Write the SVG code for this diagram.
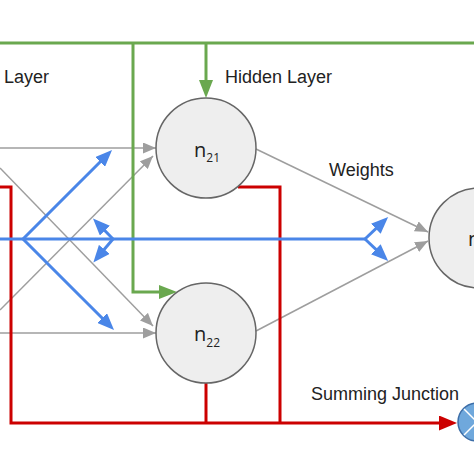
<svg xmlns="http://www.w3.org/2000/svg" width="474" height="474" viewBox="0 0 474 474">
<style>
.g{fill:none;stroke:#6aa84f;stroke-width:3}
.r{fill:none;stroke:#cc0000;stroke-width:3}
.b{fill:none;stroke:#4a86e8;stroke-width:3}
.w{fill:none;stroke:#9e9e9e;stroke-width:1.5}
.node{fill:#eeeeee;stroke:#666666;stroke-width:1.5}
.lbl{font-family:"Liberation Sans",Arial,sans-serif;font-size:18px;fill:#222222}
.nl{font-family:"Open Sans","Liberation Sans",Arial,sans-serif;font-size:20px;fill:#222222}
.sub{font-size:12px}
</style>
<defs>
<marker id="ag" markerUnits="userSpaceOnUse" markerWidth="18" markerHeight="14" refX="12" refY="7" orient="auto"><path d="M0,0 L18,7 L0,14 z" fill="#6aa84f"/></marker>
<marker id="ar" markerUnits="userSpaceOnUse" markerWidth="18" markerHeight="15" refX="12" refY="7.5" orient="auto"><path d="M0,0 L18,7.5 L0,15 z" fill="#cc0000"/></marker>
<marker id="ab" markerUnits="userSpaceOnUse" markerWidth="17" markerHeight="14" refX="11" refY="7" orient="auto"><path d="M0,0 L17,7 L0,14 z" fill="#4a86e8"/></marker>
<marker id="aw" markerUnits="userSpaceOnUse" markerWidth="13" markerHeight="11" refX="13" refY="5.5" orient="auto"><path d="M0,0 L13,5.5 L0,11 z" fill="#9e9e9e"/></marker>
</defs>
<g id="connectors">
<path class="w" d="M0,148 H156" marker-end="url(#aw)"/>
<path class="w" d="M0,333 H156" marker-end="url(#aw)"/>
<path class="w" d="M0,168 L153,326" marker-end="url(#aw)"/>
<path class="w" d="M0,310 L153,156" marker-end="url(#aw)"/>
<path class="w" d="M256,149 L428,232" marker-end="url(#aw)"/>
<path class="w" d="M256,331 L428,241" marker-end="url(#aw)"/>
<path class="g" d="M0,43 H474"/>
<path class="g" d="M206,43 V92" marker-end="url(#ag)"/>
<path class="g" d="M133,43 V292 H171" marker-end="url(#ag)"/>
<path class="r" d="M0,187 H11 V423 H451" marker-end="url(#ar)"/>
<path class="r" d="M206,382 V423"/>
<path class="r" d="M238,187 H280 V423"/>
<path class="b" d="M0,239 H365"/>
<path class="b" d="M365,239 L383.8,221.2" marker-end="url(#ab)"/>
<path class="b" d="M365,239 L383.8,256.8" marker-end="url(#ab)"/>
<path class="b" d="M23,239 L107.8,154.2" marker-end="url(#ab)"/>
<path class="b" d="M23,239 L109.8,325.8" marker-end="url(#ab)"/>
<path class="b" d="M113,239 L97.2,222.8" marker-end="url(#ab)"/>
<path class="b" d="M113,239 L97.2,257.8" marker-end="url(#ab)"/>
</g>
<g id="n21">
<circle class="node" cx="206" cy="148" r="50"/>
<text class="nl" x="194" y="157">n<tspan class="sub" dy="5">21</tspan></text>
</g>
<g id="n22">
<circle class="node" cx="206" cy="333" r="50"/>
<text class="nl" x="194" y="341">n<tspan class="sub" dy="6">22</tspan></text>
</g>
<g id="n3">
<circle class="node" cx="479" cy="238" r="50"/>
<text class="nl" x="468" y="246">n</text>
</g>
<g id="sum">
<circle cx="477" cy="422" r="19" fill="#6fa8dc" stroke="#3d6ea8" stroke-width="1.5"/>
<path d="M464,409 L490,435 M464,435 L490,409" stroke="#ffffff" stroke-width="1.5" fill="none"/>
</g>
<g id="labels">
<text class="lbl" x="4" y="83">Layer</text>
<text class="lbl" x="225" y="83">Hidden Layer</text>
<text class="lbl" x="329" y="176">Weights</text>
<text class="lbl" x="311" y="400">Summing Junction</text>
</g>
</svg>
